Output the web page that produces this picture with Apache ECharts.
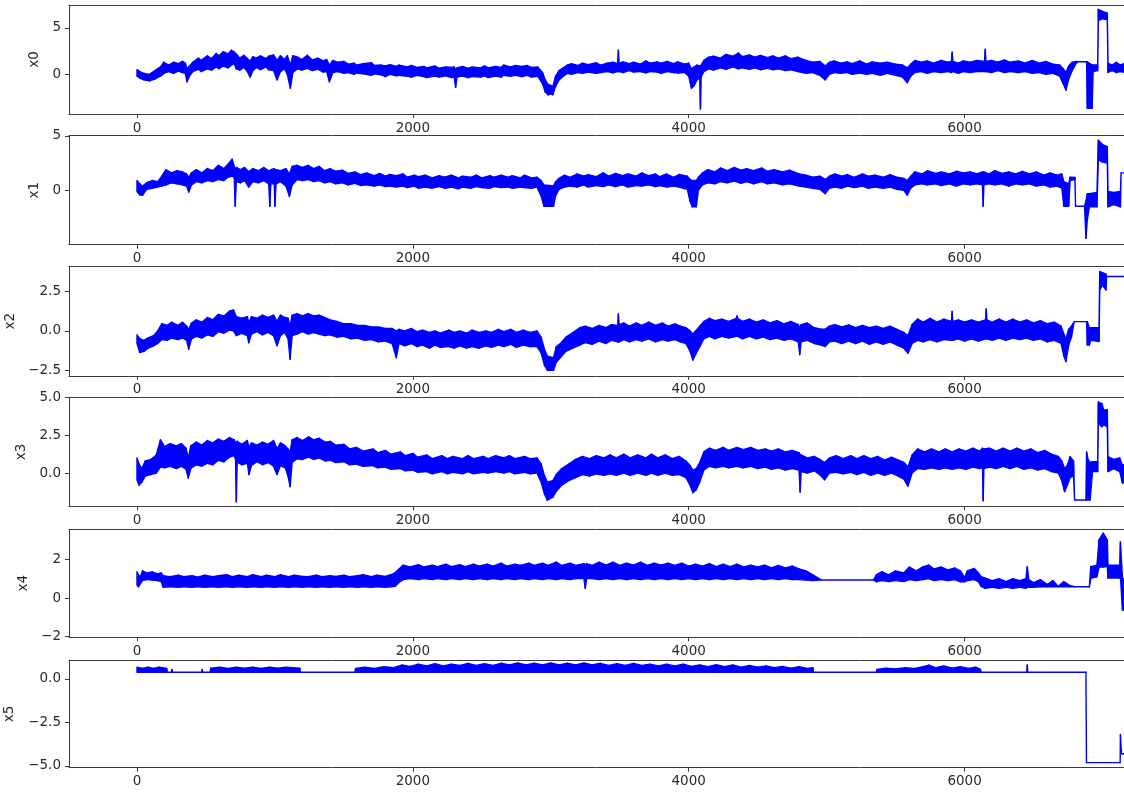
<!DOCTYPE html>
<html><head><meta charset="utf-8">
<script src="https://cdn.jsdelivr.net/npm/echarts@6/dist/echarts.min.js"></script>
<style>html,body{margin:0;padding:0;background:#fff}#c{width:1124px;height:794px}</style>
</head><body><div id="c"></div>
<script>
// ---- data: envelope of each signal, rows are [sample index, low, high] ----
const names = ['x0','x1','x2','x3','x4','x5'];
const xTickValues = [0, 2000, 4000, 6000];
const yTicks = [[0,5],[0,5],[-2.5,0,2.5],[0,2.5,5],[-2,0,2],[-5,-2.5,0]];
const yRanges = [[-4.28,7.48],[-4.98,5.03],[-2.86,4.09],[-2.2,5.0],[-2.03,3.55],[-5.1,1.09]];

const env_x0 = [[0,-0.2,0.5],[20,-0.4,0.3],[50,-0.6,0.1],[90,-0.7,0.0],[130,-0.5,0.4],[170,-0.2,0.8],[195,0.1,1.3],[230,0.3,1.0],[265,0.1,1.3],[300,0.35,1.15],[330,0.2,1.4],[350,0.1,1.2],[363,-0.8,0.6],[380,-0.2,0.9],[405,0.3,1.3],[445,0.55,1.75],[465,0.3,1.5],[510,0.6,2.0],[540,0.45,1.7],[575,0.8,2.25],[595,0.6,2.0],[625,0.9,2.45],[660,0.7,2.2],[685,1.0,2.6],[705,1.15,2.4],[720,0.6,2.2],[745,0.45,1.75],[775,0.75,2.05],[800,0.3,1.7],[820,-0.3,1.4],[840,0.4,1.9],[865,0.75,1.75],[895,0.5,2.0],[935,0.8,1.7],[955,0.5,1.95],[990,0.4,2.1],[1015,-0.6,1.5],[1040,0.3,2.0],[1070,0.6,1.6],[1090,0.0,2.0],[1112,-1.5,1.0],[1130,0.2,2.0],[1165,0.6,1.85],[1195,0.45,1.6],[1235,0.65,2.05],[1270,0.4,1.55],[1310,0.55,1.75],[1350,0.25,1.45],[1375,0.3,1.6],[1395,-0.8,1.0],[1420,0.2,1.5],[1455,0.3,1.3],[1500,0.1,1.4],[1530,0.2,1.1],[1575,0.0,1.2],[1590,0.15,1.0],[1640,0.05,1.15],[1700,-0.1,1.25],[1720,0.05,0.95],[1770,-0.05,1.0],[1800,-0.25,0.9],[1835,0.0,1.05],[1880,-0.15,0.85],[1900,-0.1,1.0],[1960,-0.2,0.8],[1990,-0.3,0.95],[2030,-0.1,0.75],[2080,-0.25,0.85],[2100,-0.35,0.7],[2160,-0.2,0.9],[2190,-0.3,0.65],[2240,-0.15,0.8],[2280,-0.35,0.75],[2300,-0.3,0.8],[2310,-1.4,0.5],[2320,-0.3,0.7],[2360,-0.2,0.85],[2400,-0.35,0.65],[2430,-0.25,0.8],[2490,-0.3,0.7],[2520,-0.15,0.9],[2545,-0.35,0.7],[2600,-0.2,0.85],[2640,-0.3,0.75],[2660,-0.1,1.0],[2710,-0.2,0.8],[2745,-0.1,0.95],[2790,-0.25,0.85],[2830,-0.1,0.95],[2860,-0.3,0.75],[2905,-0.2,0.8],[2940,-1.0,0.2],[2960,-1.9,-0.6],[2980,-2.2,-1.1],[3000,-2.1,-1.2],[3015,-2.2,-1.3],[3035,-1.3,-0.2],[3060,-0.6,0.4],[3090,-0.2,0.7],[3120,0.1,1.0],[3150,0.0,1.15],[3195,0.2,0.95],[3230,0.1,1.2],[3270,0.25,1.05],[3330,0.1,1.25],[3360,0.2,1.0],[3410,0.3,1.2],[3450,0.15,1.3],[3485,0.3,1.15],[3490,0.3,2.6],[3495,0.3,1.2],[3525,0.2,1.35],[3570,0.4,1.15],[3600,0.25,1.3],[3650,0.3,1.1],[3690,0.15,1.45],[3720,0.3,1.2],[3770,0.25,1.35],[3800,0.1,1.2],[3845,0.3,1.4],[3890,0.2,1.15],[3920,0.15,1.35],[3970,0.2,1.1],[4000,-0.2,1.2],[4020,-1.5,0.6],[4040,-1.2,0.8],[4060,-0.6,1.0],[4080,-0.4,0.9],[4085,-3.75,0.9],[4090,-0.3,1.0],[4110,0.3,1.5],[4145,0.6,1.85],[4180,0.45,1.95],[4230,0.7,1.75],[4270,0.55,2.15],[4320,0.8,1.95],[4360,0.6,2.3],[4390,0.7,1.9],[4440,0.55,2.1],[4480,0.7,1.85],[4520,0.5,2.05],[4570,0.65,1.8],[4610,0.5,2.0],[4650,0.6,1.75],[4700,0.4,2.0],[4740,0.5,1.7],[4790,0.3,1.85],[4850,0.1,1.5],[4900,0.2,1.3],[4950,-0.1,1.4],[4990,-0.6,0.9],[5020,0.0,1.3],[5055,0.2,1.45],[5100,0.1,1.2],[5150,0.2,1.35],[5185,0.0,1.15],[5240,0.15,1.45],[5290,0.0,1.1],[5330,0.1,1.35],[5390,-0.1,1.2],[5440,0.1,1.3],[5500,-0.1,1.1],[5550,-0.3,1.0],[5585,-0.9,0.7],[5610,-0.2,1.1],[5640,0.2,1.5],[5685,0.3,1.3],[5730,0.1,1.45],[5775,0.3,1.2],[5830,0.2,1.5],[5880,0.3,1.3],[5905,0.2,1.4],[5910,0.3,2.4],[5915,0.3,1.4],[5955,0.1,1.2],[5990,0.3,1.45],[6040,0.2,1.3],[6090,0.3,1.5],[6145,0.3,1.4],[6150,0.3,2.7],[6155,0.3,1.4],[6195,0.2,1.5],[6240,0.4,1.3],[6290,0.2,1.55],[6330,0.3,1.3],[6390,0.2,1.45],[6440,0.3,1.2],[6490,0.1,1.5],[6540,0.2,1.2],[6590,0.0,1.4],[6640,0.1,1.1],[6690,-0.2,1.0],[6715,-1.0,0.6],[6735,-1.7,0.2],[6755,-0.5,0.9],[6780,0.4,1.3],[6810,1.2,1.4],[6820,1.36,1.36],[6885,1.36,1.36],[6890,-3.67,1.36],[6925,-3.67,1.0],[6932,0.3,1.0],[6965,0.4,1.0],[6970,5.8,7.0],[7000,6.0,6.8],[7035,5.9,6.6],[7040,0.2,1.2],[7070,0.4,1.0],[7100,0.2,1.3],[7130,0.3,1.0],[7160,0.2,1.2]];

const env_x1 = [[0,-0.1,0.9],[20,-0.4,0.6],[40,-0.45,0.4],[70,0.1,0.7],[110,0.2,0.9],[150,0.3,0.8],[180,0.4,1.3],[210,0.5,1.9],[250,0.7,1.6],[290,0.6,1.8],[330,0.5,1.7],[360,0.4,1.5],[375,-0.15,1.2],[395,0.5,1.6],[430,0.8,1.9],[470,0.7,1.6],[510,0.9,2.0],[550,0.8,1.8],[590,1.0,2.3],[630,0.9,2.0],[660,1.2,2.4],[690,1.3,2.85],[705,1.2,2.2],[712,-1.45,2.0],[720,0.8,2.1],[750,0.7,1.9],[780,0.9,2.1],[810,0.3,1.7],[840,0.8,2.0],[880,0.7,1.8],[920,0.9,2.1],[955,0.6,1.8],[963,-1.45,1.8],[970,0.6,1.9],[995,0.6,2.0],[1000,-1.45,1.9],[1008,0.6,1.9],[1040,0.8,1.8],[1080,0.4,2.0],[1105,-0.55,1.5],[1125,0.5,2.2],[1160,1.0,2.3],[1200,0.9,2.1],[1240,1.0,2.3],[1280,0.8,2.0],[1320,0.9,2.2],[1360,0.7,1.8],[1400,0.8,2.0],[1440,0.6,1.75],[1490,0.7,1.85],[1530,0.5,1.55],[1580,0.65,1.7],[1620,0.45,1.45],[1665,0.5,1.6],[1720,0.4,1.35],[1760,0.5,1.55],[1800,0.35,1.3],[1830,0.4,1.45],[1880,0.3,1.35],[1930,0.4,1.5],[1960,0.25,1.2],[2010,0.4,1.4],[2040,0.2,1.25],[2090,0.3,1.4],[2140,0.2,1.15],[2190,0.35,1.35],[2230,0.2,1.2],[2280,0.3,1.4],[2330,0.15,1.15],[2360,0.3,1.3],[2420,0.2,1.2],[2460,0.35,1.4],[2500,0.25,1.15],[2560,0.2,1.35],[2590,0.35,1.2],[2640,0.25,1.4],[2690,0.3,1.2],[2720,0.2,1.35],[2780,0.3,1.15],[2810,0.25,1.4],[2860,0.2,1.15],[2900,0.3,1.2],[2930,-0.5,0.9],[2950,-1.45,0.5],[3020,-1.45,0.4],[3035,-0.5,0.8],[3060,0.1,1.1],[3100,0.3,1.4],[3140,0.4,1.2],[3190,0.3,1.5],[3240,0.5,1.3],[3270,0.3,1.45],[3330,0.45,1.25],[3380,0.35,1.6],[3420,0.5,1.3],[3470,0.35,1.55],[3520,0.5,1.35],[3560,0.3,1.5],[3620,0.45,1.3],[3660,0.4,1.6],[3710,0.5,1.35],[3760,0.35,1.5],[3790,0.45,1.25],[3840,0.3,1.5],[3890,0.4,1.2],[3930,0.3,1.45],[3990,0.1,1.3],[4010,-1.0,1.0],[4025,-1.5,0.9],[4055,-1.5,0.9],[4070,0.0,1.2],[4100,0.5,1.6],[4140,0.7,1.9],[4190,0.6,1.7],[4230,0.8,2.05],[4280,0.7,1.8],[4330,0.85,2.1],[4380,0.65,1.85],[4420,0.8,2.0],[4470,0.6,1.8],[4530,0.8,2.05],[4570,0.6,1.75],[4620,0.7,1.9],[4680,0.5,1.7],[4730,0.6,1.85],[4800,0.4,1.5],[4850,0.3,1.4],[4900,0.2,1.2],[4950,0.1,1.3],[4990,-0.3,1.0],[5020,0.2,1.3],[5060,0.3,1.5],[5110,0.2,1.3],[5150,0.4,1.45],[5200,0.25,1.2],[5260,0.4,1.5],[5300,0.2,1.3],[5350,0.3,1.4],[5410,0.2,1.2],[5460,0.3,1.45],[5510,0.1,1.2],[5560,0.0,1.1],[5585,-0.45,0.9],[5610,0.2,1.3],[5640,0.5,1.7],[5690,0.6,1.5],[5730,0.5,1.8],[5790,0.6,1.55],[5830,0.45,1.7],[5890,0.6,1.5],[5940,0.4,1.75],[5990,0.6,1.6],[6040,0.5,1.7],[6090,0.6,1.5],[6130,0.5,1.7],[6135,-1.45,1.6],[6140,0.5,1.7],[6175,0.6,1.5],[6220,0.5,1.8],[6270,0.6,1.55],[6320,0.4,1.7],[6370,0.6,1.5],[6420,0.5,1.75],[6470,0.6,1.5],[6520,0.4,1.7],[6575,0.5,1.4],[6620,0.3,1.6],[6670,0.4,1.4],[6705,0.2,1.5],[6720,-1.45,0.8],[6755,-1.45,0.6],[6765,0.9,1.2],[6800,1.0,1.19],[6805,-1.45,-1.45],[6870,-1.45,-1.45],[6880,-4.4,-1.0],[6890,-2.7,-0.3],[6905,-1.5,-0.3],[6960,-1.5,-0.2],[6970,2.8,4.6],[7000,2.6,4.2],[7035,2.5,4.0],[7040,-1.5,-0.1],[7080,-1.3,-0.2],[7130,-1.5,-0.1],[7135,1.6,1.6],[7160,1.6,1.6]];

const env_x2 = [[0,-0.8,-0.25],[20,-1.38,-0.5],[50,-1.3,-0.6],[80,-1.1,-0.45],[120,-0.95,-0.3],[150,-0.8,0.0],[180,-0.55,0.45],[220,-0.6,0.35],[250,-0.45,0.55],[295,-0.55,0.35],[330,-0.45,0.55],[360,-0.6,0.3],[375,-1.16,0.1],[395,-0.5,0.5],[430,-0.35,0.7],[470,-0.45,0.55],[510,-0.25,0.85],[550,-0.35,0.7],[590,-0.05,1.05],[630,-0.15,0.95],[670,0.05,1.25],[700,0.0,1.33],[720,-0.3,0.9],[760,-0.15,0.8],[800,-0.3,0.9],[810,-0.75,0.5],[830,-0.2,0.9],[870,-0.05,0.8],[910,-0.25,1.0],[950,-0.1,0.85],[990,-0.3,1.0],[1015,-0.95,0.6],[1040,-0.3,1.0],[1070,-0.1,0.85],[1095,-0.5,0.8],[1110,-1.8,0.3],[1125,-0.3,1.0],[1160,-0.2,1.1],[1200,-0.05,0.95],[1240,-0.2,1.1],[1280,-0.1,0.95],[1320,-0.2,1.0],[1360,-0.3,0.85],[1400,-0.25,0.7],[1450,-0.4,0.6],[1500,-0.35,0.45],[1550,-0.5,0.45],[1600,-0.45,0.35],[1650,-0.6,0.35],[1700,-0.55,0.25],[1750,-0.7,0.25],[1800,-0.65,0.15],[1850,-0.8,0.15],[1880,-1.7,0.0],[1900,-0.8,0.1],[1940,-0.95,0.0],[1990,-0.8,0.15],[2030,-1.0,-0.05],[2070,-0.9,0.05],[2120,-1.1,-0.1],[2160,-0.9,0.0],[2200,-1.05,-0.15],[2260,-1.0,0.05],[2300,-1.1,-0.1],[2340,-0.95,0.0],[2390,-1.1,-0.15],[2430,-1.0,0.05],[2480,-1.1,-0.1],[2530,-0.95,0.0],[2570,-1.05,-0.1],[2620,-0.9,0.1],[2660,-1.0,-0.05],[2710,-0.85,0.1],[2750,-1.05,-0.1],[2800,-0.9,0.05],[2850,-1.0,-0.1],[2900,-1.0,0.0],[2930,-1.4,-0.4],[2955,-2.2,-1.2],[2975,-2.5,-1.6],[3020,-2.5,-1.7],[3040,-2.0,-1.0],[3070,-1.7,-0.8],[3110,-1.3,-0.4],[3160,-1.1,-0.1],[3210,-0.9,0.2],[3250,-0.75,0.3],[3300,-0.85,0.15],[3350,-0.65,0.35],[3400,-0.8,0.2],[3440,-0.6,0.4],[3485,-0.7,0.35],[3490,-0.7,1.08],[3495,-0.7,0.4],[3530,-0.55,0.5],[3570,-0.7,0.3],[3620,-0.55,0.5],[3660,-0.65,0.35],[3710,-0.5,0.55],[3760,-0.7,0.35],[3810,-0.55,0.5],[3850,-0.65,0.3],[3900,-0.55,0.45],[3940,-0.7,0.3],[3980,-0.8,0.2],[4010,-1.3,0.0],[4030,-1.85,-0.2],[4050,-1.5,0.0],[4080,-1.0,0.3],[4110,-0.5,0.6],[4150,-0.35,0.8],[4190,-0.5,0.65],[4240,-0.35,0.75],[4290,-0.45,0.6],[4345,-0.35,0.8],[4350,-0.35,0.95],[4355,-0.35,0.8],[4390,-0.5,0.6],[4440,-0.35,0.75],[4490,-0.5,0.55],[4540,-0.4,0.7],[4590,-0.55,0.5],[4640,-0.45,0.65],[4690,-0.6,0.45],[4740,-0.5,0.6],[4795,-0.7,0.4],[4805,-1.5,0.2],[4815,-0.7,0.4],[4860,-0.6,0.5],[4910,-0.8,0.2],[4960,-0.9,0.1],[4990,-1.0,0.1],[5020,-0.7,0.3],[5060,-0.65,0.4],[5110,-0.8,0.25],[5160,-0.65,0.38],[5210,-0.8,0.2],[5260,-0.65,0.35],[5310,-0.85,0.2],[5360,-0.7,0.3],[5410,-0.85,0.15],[5460,-0.7,0.3],[5510,-0.9,0.1],[5560,-1.1,-0.1],[5590,-1.42,-0.3],[5620,-0.8,0.4],[5660,-0.6,0.75],[5700,-0.7,0.55],[5750,-0.55,0.8],[5800,-0.7,0.55],[5850,-0.55,0.75],[5905,-0.6,0.6],[5910,-0.6,1.23],[5915,-0.6,0.6],[5955,-0.5,0.7],[6000,-0.65,0.55],[6050,-0.5,0.7],[6100,-0.65,0.55],[6152,-0.5,0.7],[6157,-0.5,1.4],[6162,-0.5,0.7],[6200,-0.6,0.55],[6250,-0.45,0.75],[6300,-0.6,0.55],[6350,-0.45,0.75],[6400,-0.55,0.55],[6450,-0.45,0.7],[6500,-0.6,0.5],[6550,-0.5,0.65],[6600,-0.7,0.45],[6650,-0.6,0.55],[6700,-0.8,0.3],[6720,-1.6,-0.2],[6735,-1.95,-0.5],[6755,-0.9,0.1],[6775,-0.4,0.3],[6795,0.59,0.59],[6885,0.59,0.59],[6890,-0.9,0.59],[6905,-0.9,0.2],[6915,-0.6,0.2],[6975,-0.68,0.2],[6980,2.6,3.77],[7000,2.9,3.7],[7025,2.6,3.6],[7030,3.45,3.45],[7160,3.45,3.45]];

const env_x3 = [[0,-0.46,1.0],[15,-0.8,0.6],[35,-0.6,0.3],[60,-0.2,0.8],[100,-0.1,0.9],[140,0.0,1.2],[170,0.4,2.2],[200,0.35,1.75],[240,0.45,1.95],[285,0.3,1.8],[320,0.45,1.95],[355,0.25,1.65],[372,-0.33,1.0],[390,0.3,1.8],[430,0.55,2.05],[470,0.45,1.85],[510,0.65,2.15],[550,0.55,2.0],[590,0.85,2.25],[630,0.75,2.1],[670,1.05,2.35],[705,1.15,2.2],[715,0.9,2.0],[720,-1.9,1.9],[726,0.7,2.1],[760,0.55,1.9],[800,0.65,2.15],[812,-0.1,1.7],[830,0.5,2.0],[870,0.75,1.85],[910,0.55,2.05],[950,0.7,1.9],[990,0.45,2.15],[1015,-0.1,1.6],[1040,0.5,2.0],[1075,0.35,1.8],[1095,-0.2,1.6],[1110,-0.9,1.4],[1125,0.7,2.2],[1160,0.95,2.35],[1200,0.9,2.15],[1245,1.05,2.4],[1280,0.9,2.2],[1320,1.0,2.3],[1365,0.8,2.05],[1400,0.85,2.1],[1440,0.7,1.85],[1500,0.75,1.9],[1540,0.55,1.6],[1590,0.6,1.7],[1640,0.45,1.45],[1710,0.5,1.6],[1745,0.35,1.35],[1800,0.4,1.5],[1840,0.25,1.25],[1910,0.3,1.4],[1945,0.15,1.15],[2000,0.2,1.3],[2035,0.05,1.05],[2100,0.1,1.2],[2140,-0.05,0.95],[2210,0.1,1.15],[2250,-0.05,0.95],[2290,0.05,1.1],[2360,-0.05,0.95],[2400,0.1,1.15],[2440,-0.05,0.95],[2510,0.05,1.1],[2545,0.0,0.95],[2600,0.1,1.15],[2660,0.0,1.0],[2700,0.1,1.15],[2740,-0.05,0.95],[2810,0.05,1.1],[2850,-0.05,0.95],[2900,0.0,1.0],[2930,-0.6,0.6],[2955,-1.4,-0.2],[2975,-1.8,-0.6],[3015,-1.6,-0.5],[3040,-1.2,-0.1],[3080,-0.8,0.3],[3130,-0.5,0.6],[3180,-0.3,0.9],[3230,-0.1,1.1],[3280,-0.2,0.95],[3330,-0.05,1.15],[3385,-0.15,1.0],[3430,-0.05,1.2],[3475,-0.15,1.0],[3530,0.0,1.25],[3575,-0.15,1.0],[3630,0.0,1.2],[3690,-0.15,1.0],[3730,0.0,1.25],[3775,-0.15,1.0],[3830,0.0,1.2],[3880,-0.15,0.95],[3930,-0.1,1.1],[3980,-0.3,0.8],[4010,-0.8,0.5],[4030,-1.3,0.2],[4055,-1.1,0.3],[4080,-0.6,0.7],[4110,0.2,1.4],[4150,0.45,1.65],[4195,0.35,1.5],[4250,0.45,1.7],[4290,0.35,1.5],[4350,0.45,1.7],[4395,0.35,1.55],[4450,0.45,1.7],[4500,0.3,1.5],[4555,0.4,1.6],[4600,0.25,1.45],[4650,0.35,1.6],[4700,0.2,1.4],[4750,0.3,1.5],[4800,0.2,1.35],[4808,-1.25,1.2],[4815,0.1,1.2],[4860,0.0,1.0],[4910,0.15,1.1],[4950,-0.1,0.9],[4985,-0.45,0.7],[5020,0.0,1.0],[5070,0.05,1.15],[5120,-0.05,0.95],[5175,0.05,1.15],[5220,-0.1,0.95],[5270,0.05,1.15],[5320,-0.15,0.95],[5370,0.0,1.1],[5420,-0.15,0.85],[5470,0.0,1.05],[5520,-0.2,0.85],[5560,-0.4,0.7],[5590,-0.86,0.4],[5620,0.0,1.2],[5660,0.3,1.6],[5710,0.25,1.4],[5760,0.35,1.6],[5815,0.25,1.4],[5860,0.35,1.6],[5910,0.25,1.4],[5960,0.35,1.6],[6010,0.25,1.45],[6060,0.4,1.65],[6110,0.3,1.45],[6130,0.4,1.65],[6135,-1.83,1.6],[6140,0.3,1.6],[6180,0.4,1.65],[6230,0.3,1.45],[6280,0.45,1.65],[6330,0.3,1.45],[6380,0.45,1.65],[6430,0.25,1.45],[6480,0.35,1.6],[6530,0.2,1.35],[6580,0.3,1.5],[6630,0.1,1.25],[6680,0.0,1.1],[6705,-0.5,0.8],[6725,-1.23,0.3],[6745,-0.8,0.5],[6765,-0.3,1.08],[6790,-0.2,0.8],[6798,-1.78,-1.78],[6880,-1.78,-1.78],[6885,-1.78,1.4],[6895,-1.78,0.9],[6910,-1.78,0.7],[6928,0.1,0.75],[6965,0.1,0.75],[6970,3.3,4.7],[6995,3.06,4.6],[7010,3.2,4.16],[7035,3.06,4.2],[7040,0.1,1.08],[7080,0.3,0.9],[7125,0.1,1.0],[7145,-0.66,0.5],[7160,-0.6,0.6]];

const env_x4 = [[0,0.67,1.36],[10,0.58,1.2],[25,0.75,1.1],[40,0.9,1.4],[70,0.95,1.3],[110,0.93,1.35],[150,0.9,1.25],[175,0.85,1.3],[190,0.55,1.15],[240,0.58,1.1],[300,0.55,1.18],[340,0.58,1.1],[400,0.55,1.15],[440,0.58,1.08],[490,0.55,1.18],[550,0.58,1.1],[590,0.55,1.15],[650,0.58,1.2],[690,0.55,1.1],[740,0.58,1.18],[800,0.55,1.1],[840,0.58,1.2],[900,0.55,1.1],[940,0.58,1.18],[1000,0.55,1.1],[1040,0.58,1.2],[1100,0.55,1.1],[1140,0.58,1.18],[1200,0.55,1.12],[1240,0.58,1.1],[1300,0.55,1.18],[1340,0.58,1.1],[1400,0.55,1.15],[1440,0.58,1.12],[1500,0.55,1.18],[1540,0.58,1.1],[1600,0.55,1.15],[1640,0.58,1.2],[1700,0.55,1.1],[1740,0.58,1.18],[1800,0.55,1.12],[1840,0.58,1.2],[1870,0.6,1.3],[1900,0.8,1.5],[1930,0.95,1.7],[1980,1.0,1.6],[2040,0.95,1.72],[2080,1.0,1.6],[2140,0.95,1.7],[2180,1.0,1.62],[2240,0.95,1.75],[2280,1.0,1.62],[2340,0.95,1.72],[2380,1.0,1.62],[2440,0.95,1.75],[2480,1.0,1.65],[2540,0.95,1.75],[2580,1.0,1.65],[2640,0.95,1.8],[2680,1.0,1.65],[2740,0.95,1.75],[2780,1.0,1.68],[2840,0.95,1.8],[2880,1.0,1.68],[2940,0.95,1.8],[2980,1.0,1.68],[3040,0.95,1.85],[3080,1.0,1.68],[3140,0.95,1.8],[3180,1.0,1.68],[3240,1.0,1.78],[3250,0.5,1.7],[3260,1.0,1.78],[3300,1.0,1.68],[3350,0.95,1.85],[3400,1.0,1.7],[3450,0.95,1.85],[3500,1.0,1.68],[3550,0.95,1.8],[3600,1.0,1.7],[3650,0.95,1.85],[3700,1.0,1.68],[3750,0.95,1.8],[3800,1.0,1.7],[3850,0.95,1.8],[3900,1.0,1.68],[3950,0.95,1.8],[4000,1.0,1.65],[4050,0.95,1.75],[4100,1.0,1.65],[4150,0.95,1.78],[4200,1.0,1.62],[4250,0.95,1.75],[4300,1.0,1.62],[4350,0.95,1.75],[4400,1.0,1.6],[4450,0.95,1.7],[4500,1.0,1.6],[4550,0.95,1.7],[4600,1.0,1.55],[4650,0.95,1.68],[4700,1.0,1.55],[4750,0.95,1.65],[4800,0.95,1.5],[4850,0.93,1.4],[4900,0.9,1.2],[4945,0.93,1.0],[4960,0.93,0.93],[5340,0.93,0.93],[5360,0.84,1.2],[5400,0.9,1.36],[5450,0.85,1.2],[5500,0.9,1.4],[5560,0.85,1.3],[5600,0.95,1.6],[5650,0.9,1.4],[5700,0.95,1.62],[5740,1.0,1.7],[5780,0.9,1.5],[5830,0.95,1.6],[5880,0.9,1.45],[5930,0.95,1.55],[5970,0.84,1.4],[6000,0.84,1.06],[6020,0.9,1.4],[6070,0.95,1.53],[6100,0.84,1.3],[6120,0.6,1.1],[6150,0.5,1.03],[6200,0.55,0.9],[6250,0.5,1.0],[6300,0.55,0.85],[6350,0.5,1.0],[6400,0.55,0.9],[6445,0.5,1.0],[6455,0.55,1.62],[6465,0.55,0.95],[6500,0.55,0.8],[6550,0.58,0.95],[6600,0.58,0.7],[6640,0.58,0.9],[6680,0.58,0.6],[6720,0.58,0.85],[6760,0.58,0.65],[6800,0.58,0.58],[6905,0.58,0.58],[6915,1.02,1.62],[6960,1.1,1.7],[6975,1.6,3.0],[7005,1.6,3.35],[7035,1.62,3.0],[7040,1.03,1.7],[7125,1.03,1.7],[7130,1.1,2.9],[7145,-0.62,1.0],[7160,-0.62,1.0]];

const env_x5 = [[0,0.385,0.67],[40,0.385,0.6],[80,0.385,0.67],[120,0.385,0.6],[160,0.385,0.67],[215,0.385,0.6],[220,0.385,0.385],[250,0.385,0.385],[253,0.385,0.55],[256,0.385,0.385],[470,0.385,0.385],[473,0.385,0.55],[476,0.385,0.385],[530,0.385,0.385],[535,0.385,0.62],[600,0.385,0.67],[660,0.385,0.6],[720,0.385,0.67],[780,0.385,0.62],[840,0.385,0.67],[900,0.385,0.6],[960,0.385,0.67],[1020,0.385,0.62],[1080,0.385,0.67],[1180,0.385,0.62],[1185,0.385,0.385],[1580,0.385,0.385],[1585,0.385,0.6],[1650,0.385,0.67],[1720,0.385,0.6],[1790,0.385,0.7],[1860,0.385,0.65],[1920,0.385,0.8],[1980,0.385,0.72],[2040,0.385,0.85],[2100,0.385,0.75],[2160,0.385,0.88],[2220,0.385,0.75],[2280,0.385,0.85],[2340,0.385,0.78],[2400,0.385,0.9],[2460,0.385,0.78],[2520,0.385,0.88],[2580,0.385,0.78],[2640,0.385,0.9],[2700,0.385,0.8],[2760,0.385,0.92],[2820,0.385,0.8],[2880,0.385,0.9],[2940,0.385,0.8],[3000,0.385,0.92],[3060,0.385,0.8],[3120,0.385,0.9],[3180,0.385,0.8],[3240,0.385,0.92],[3300,0.385,0.8],[3360,0.385,0.9],[3420,0.385,0.78],[3480,0.385,0.88],[3540,0.385,0.78],[3600,0.385,0.9],[3660,0.385,0.78],[3720,0.385,0.85],[3780,0.385,0.75],[3840,0.385,0.85],[3900,0.385,0.75],[3960,0.385,0.85],[4020,0.385,0.72],[4080,0.385,0.8],[4140,0.385,0.7],[4200,0.385,0.82],[4260,0.385,0.7],[4320,0.385,0.8],[4380,0.385,0.68],[4440,0.385,0.78],[4500,0.385,0.68],[4560,0.385,0.75],[4620,0.385,0.65],[4680,0.385,0.72],[4740,0.385,0.62],[4800,0.385,0.7],[4860,0.385,0.6],[4900,0.385,0.65],[4905,0.385,0.385],[5360,0.385,0.385],[5365,0.385,0.55],[5430,0.385,0.62],[5500,0.385,0.58],[5570,0.385,0.65],[5640,0.385,0.6],[5700,0.385,0.7],[5740,0.385,0.8],[5790,0.385,0.65],[5850,0.385,0.75],[5910,0.385,0.62],[5970,0.385,0.7],[6030,0.385,0.6],[6080,0.385,0.68],[6115,0.385,0.55],[6120,0.385,0.385],[6452,0.385,0.385],[6455,0.385,0.8],[6458,0.385,0.385],[6880,0.385,0.385],[6884,-4.81,-4.81],[7128,-4.81,-4.81],[7130,-3.2,-3.2],[7138,-4.3,-4.3],[7160,-4.3,-4.3]];

const envs = [env_x0, env_x1, env_x2, env_x3, env_x4, env_x5];

// ---- layout (positions / styles only) ----
const BLUE = '#0000ff';
const AXIS = '#3a3a3a';
const TEXT = '#2a2a2a';
const FONT = 'DejaVu Sans';
const gridLeft = 69, xMin = -493, xMax = 7156;
const gridTops = [5, 135.5, 266.5, 397.5, 529.3, 660];
const gridHeights = [109, 109.2, 109.4, 108.8, 108, 107.7];
const nameGaps = [26, 26, 52, 40, 38.5, 52.5];
const decimals = [0, 0, 1, 1, 0, 1];

const chart = echarts.init(document.getElementById('c'), null, {renderer: 'canvas'});
const grids = [], xAxes = [], yAxes = [], series = [];
const fmtNum = (v, d) => v.toFixed(d).replace('-', '\u2212');
const lineStyle = {color: AXIS, width: 1};

names.forEach((nm, k) => {
  grids.push({left: gridLeft, top: gridTops[k], height: gridHeights[k], right: 0, show: false,
    containLabel: false, outerBoundsMode: 'none'});
  xAxes.push({type: 'value', gridIndex: k, min: xMin, max: xMax, position: 'bottom',
    splitLine: {show: false},
    axisLine: {show: true, onZero: false, lineStyle},
    axisTick: {show: true, inside: false, length: 4, lineStyle, customValues: xTickValues},
    axisLabel: {show: true, margin: 7, color: TEXT, fontFamily: FONT, fontSize: 13.5, customValues: xTickValues,
      formatter: v => String(v)}});
  xAxes.push({type: 'value', gridIndex: k, min: xMin, max: xMax, position: 'top',
    splitLine: {show: false}, axisTick: {show: false}, axisLabel: {show: false},
    axisLine: {show: true, onZero: false, lineStyle}});
  yAxes.push({type: 'value', gridIndex: k, min: yRanges[k][0], max: yRanges[k][1],
    name: nm, nameLocation: 'middle', nameGap: nameGaps[k], nameRotate: 90,
    nameTextStyle: {color: TEXT, fontFamily: FONT, fontSize: 13.5},
    splitLine: {show: false},
    axisLine: {show: true, onZero: false, lineStyle},
    axisTick: {show: true, length: 4, lineStyle, customValues: yTicks[k]},
    axisLabel: {show: true, margin: 8, color: TEXT, fontFamily: FONT, fontSize: 13.5, customValues: yTicks[k],
      formatter: v => fmtNum(v, decimals[k])}});
  const env = envs[k];
  series.push({
    type: 'custom', xAxisIndex: 2 * k, yAxisIndex: k, clip: true, silent: true,
    data: env, encode: {x: 0, y: [1, 2]},
    renderItem: (params, api) => {
      const i = params.dataIndex;
      if (i >= env.length - 1) return null;
      const p0 = api.coord([env[i][0], env[i][1]]);
      const p1 = api.coord([env[i+1][0], env[i+1][1]]);
      const q1 = api.coord([env[i+1][0], env[i+1][2]]);
      const q0 = api.coord([env[i][0], env[i][2]]);
      return {type: 'polygon', shape: {points: [p0, p1, q1, q0]},
        style: {fill: BLUE, stroke: BLUE, lineWidth: 1.4, lineJoin: 'round'}};
    }
  });
});

chart.setOption({animation: false, backgroundColor: '#fff', grid: grids, xAxis: xAxes, yAxis: yAxes, series});
</script>
</body></html>
